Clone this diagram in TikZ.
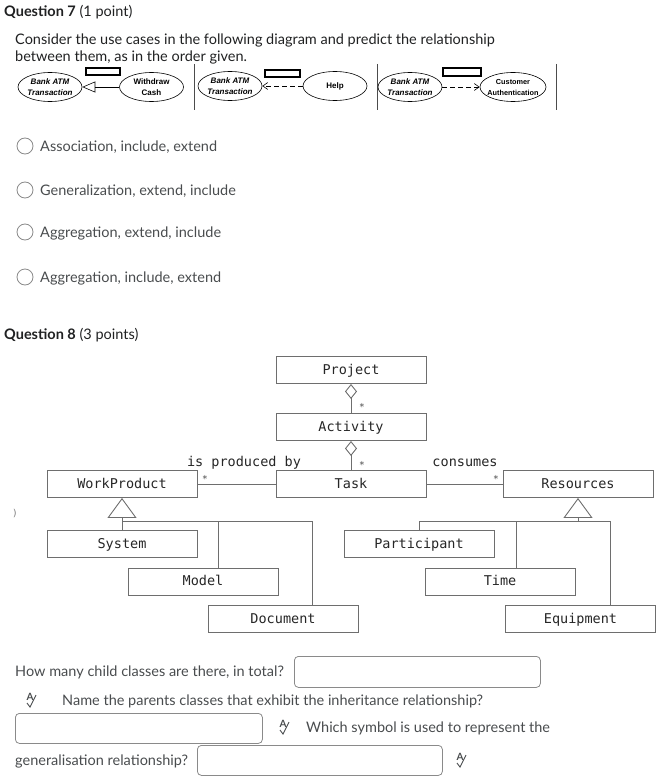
\documentclass[tikz,border=0pt]{standalone}
\usepackage{fontspec}
\setmainfont{Lato}
\newfontfamily\umlfont{DejaVu Sans Mono}
\newfontfamily\ucfont{Liberation Sans}
\usetikzlibrary{shapes.geometric,arrows.meta,positioning}

\definecolor{qblack}{HTML}{202122}
\definecolor{qgray}{HTML}{494C4E}
\definecolor{boxgray}{HTML}{8A8A8A}
\definecolor{umlline}{HTML}{6E6E6E}

\tikzset{
  qhead/.style={anchor=base west, inner sep=0pt, text=qblack,
    font=\fontsize{14.5}{17}\selectfont},
  qtext/.style={anchor=base west, inner sep=0pt, text=qblack,
    font=\fontsize{14.5}{17}\selectfont},
  opttext/.style={anchor=base west, inner sep=0pt, text=qgray,
    font=\fontsize{14.5}{17}\selectfont},
  radio/.style={draw=boxgray, circle, minimum size=16pt, inner sep=0pt, line width=0.8pt},
  usecase/.style={draw=black, ellipse, line width=0.6pt, minimum width=64pt,
    minimum height=29pt, inner sep=0pt},
  uctext/.style={align=center, inner sep=0pt, font=\ucfont\bfseries\fontsize{8}{11}\selectfont},
  stereo/.style={draw=black, line width=2.5pt, inner sep=0pt},
  sepline/.style={draw=black!70, line width=0.8pt},
  ucdash/.style={line width=0.6pt, dash pattern=on 5pt off 3pt,
    -{Straight Barb[length=5pt,width=7pt]}},
  classbox/.style={draw=umlline, line width=0.9pt, minimum width=150pt, minimum height=27pt,
    inner sep=0pt, text height=10pt, text depth=2pt, text=black!85,
    font=\umlfont\fontsize{13.5}{15}\selectfont},
  rolelabel/.style={inner sep=0pt, text=black!85, font=\umlfont\fontsize{13.5}{15}\selectfont},
  mult/.style={inner sep=0pt, text=black!70, font=\umlfont\fontsize{9.5}{10}\selectfont},
  assoc/.style={draw=umlline, line width=0.9pt},
  aggr/.style={draw=umlline, line width=0.9pt, -{Diamond[open,length=15pt,width=12pt]}},
  gen/.style={draw=umlline, line width=0.9pt, -{Triangle[open,length=20pt,width=29pt]}},
  inputbox/.style={draw=boxgray, rounded corners=4pt, line width=0.8pt, anchor=north west,
    inner sep=0pt},
  spellA/.style={inner sep=0pt, text=qgray, font=\fontsize{10}{10}\selectfont\bfseries},
  spellchk/.style={draw=qgray, line width=0.9pt},
}

\begin{document}
\begin{tikzpicture}[x=1pt,y=-1pt]
\useasboundingbox (0,0) rectangle (670,781);

% question 7
\node[qhead] (q7) at (4,17) {\textbf{Question 7} (1 point)};
\node[qtext] (cons1) at (15,45) {Consider the use cases in the following diagram and predict the relationship};
\node[qtext] (cons2) at (15,62) {between them, as in the order given.};

% use case strip
\foreach \x in {194,377,556}
  \draw[sepline] (\x,64) -- (\x,110);

\node[usecase] (atm1) at (50,87) {};
\node[uctext] (atm1t) at (atm1) {\itshape Bank ATM\\\itshape Transaction};
\node[usecase] (withdraw) at (151.5,87) {};
\node[uctext] (withdrawt) at (withdraw) {Withdraw\\Cash};
\node[stereo, minimum width=34pt, minimum height=7pt] (st1) at (103,71.5) {};
\draw[line width=0.6pt, -{Triangle[open,length=13pt,width=11pt]}] (withdraw) -- (atm1);

\node[usecase] (atm2) at (230,86) {};
\node[uctext] (atm2t) at (atm2) {\itshape Bank ATM\\\itshape Transaction};
\node[usecase] (help) at (335,86) {};
\node[uctext] (helpt) at (help) {Help};
\node[stereo, minimum width=35pt, minimum height=7pt] (st2) at (282.5,73.5) {};
\draw[ucdash] (help) -- (atm2);

\node[usecase] (atm3) at (410,87) {};
\node[uctext] (atm3t) at (atm3) {\itshape Bank ATM\\\itshape Transaction};
\node[usecase, minimum width=66pt] (custauth) at (513,87) {};
\node[uctext, font=\ucfont\bfseries\fontsize{7.3}{11}\selectfont] (custautht) at (custauth) {Customer\\Authentication};
\node[stereo, minimum width=38pt, minimum height=8pt] (st3) at (462,72) {};
\draw[ucdash] (atm3) -- (custauth);

% answer options
\foreach \yy/\opt in {146/{Association, include, extend}, 190/{Generalization, extend, include},
                       232/{Aggregation, extend, include}, 277/{Aggregation, include, extend}} {
  \node[radio] (r\yy) at (25,\yy) {};
  \node[opttext] (o\yy) at (40,\yy+5) {\opt};
}

% question 8
\node[qhead] (q8) at (4,339) {\textbf{Question 8} (3 points)};
\node[mult, text=black!50] (stray) at (15,514) {)};

% class diagram
\node[classbox] (project) at (351,370) {Project};
\node[classbox] (activity) at (351,427) {Activity};
\node[classbox] (task) at (351,484) {Task};
\node[classbox] (workprod) at (122,484) {WorkProduct};
\node[classbox] (resources) at (578,484) {Resources};
\node[classbox] (system) at (122,544) {System};
\node[classbox] (model) at (203,581.5) {Model};
\node[classbox] (document) at (283,619) {Document};
\node[classbox] (particip) at (419,544) {Participant};
\node[classbox] (time) at (500,581.5) {Time};
\node[classbox] (equip) at (580.5,619) {Equipment};

\draw[aggr] (activity) -- (project);
\draw[aggr] (task) -- (activity);
\draw[assoc] (workprod) -- (task);
\draw[assoc] (task) -- (resources);

\node[mult] (m1) at (362,407) {*};
\node[mult] (m2) at (362,465) {*};
\node[mult] (m3) at (205,479) {*};
\node[mult] (m4) at (496,479) {*};
\node[rolelabel] (prodby) at (244,463) {is produced by};
\node[rolelabel] (consumes) at (465,463) {consumes};

% generalisation of WorkProduct
\coordinate (wpb2) at (218,521);
\coordinate (wpb3) at (312,521);
\draw[gen] (system) -- (workprod);
\draw[assoc] (system.north |- wpb2) -- (wpb3) -- (wpb3 |- document.north);
\draw[assoc] (wpb2) -- (wpb2 |- model.north);

% generalisation of Resources
\coordinate (rb0) at (578,521);
\coordinate (rb2) at (516,521);
\coordinate (rb3) at (610,521);
\draw[gen] (rb0) -- (resources);
\draw[assoc] (particip.north) -- (particip.north |- rb3) -- (rb3) -- (rb3 |- equip.north);
\draw[assoc] (rb2) -- (rb2 |- time.north);

% answer fields
\node[opttext] (ask1) at (15,676) {How many child classes are there, in total?};
\node[inputbox, minimum width=246pt, minimum height=31pt] (ans1) at (294,656) {};
\node[opttext] (ask2) at (62,705) {Name the parents classes that exhibit the inheritance relationship?};
\node[inputbox, minimum width=247pt, minimum height=30pt] (ans2) at (15,713) {};
\node[opttext] (ask3) at (306,732) {Which symbol is used to represent the};
\node[opttext] (ask4) at (15,765) {generalisation relationship?};
\node[inputbox, minimum width=245pt, minimum height=30pt] (ans3) at (197,745) {};

\foreach \ix/\iy [count=\i] in {31/700,284/727,461/760} {
  \node[spellA] (sp\i) at (\ix-1,\iy-3) {A};
  \draw[spellchk] (\ix-4,\iy+3) -- (\ix-1,\iy+7) -- (\ix+5,\iy-5);
}
\end{tikzpicture}
\end{document}
